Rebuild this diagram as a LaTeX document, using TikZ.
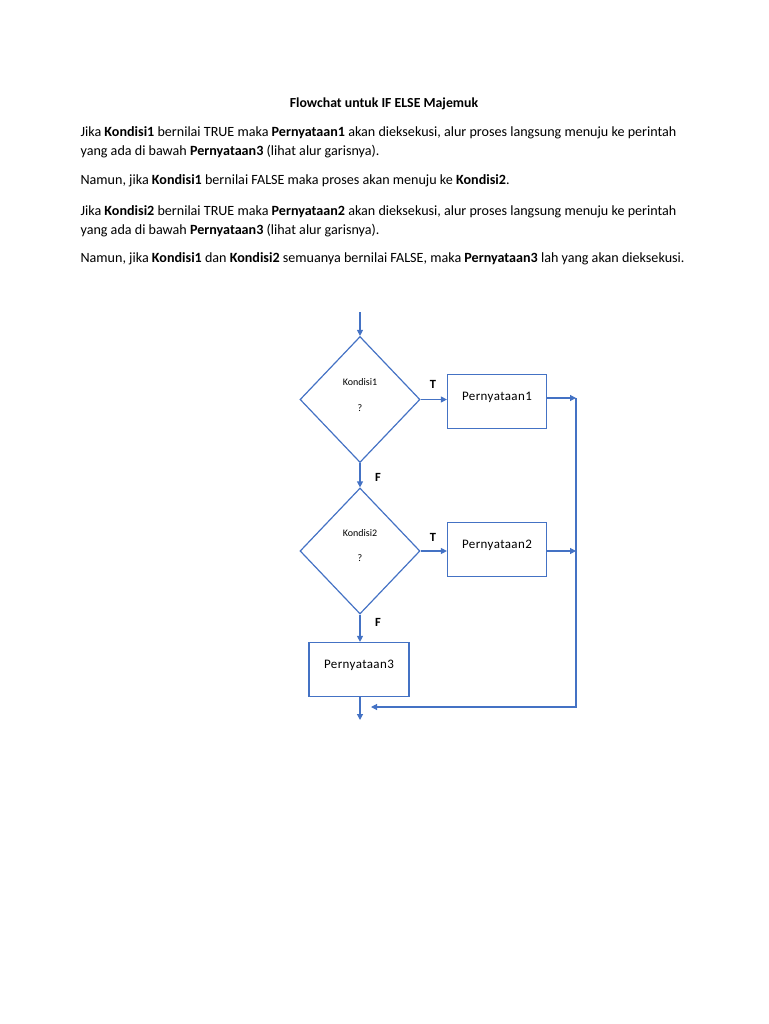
\documentclass[tikz,border=0pt]{standalone}
\usepackage{fontspec}
\setmainfont{Carlito}
\newfontfamily\kotakfont[LetterSpace=3]{Carlito}
\usepackage{tikz}
\usetikzlibrary{shapes.geometric, arrows.meta, positioning}
\definecolor{garis}{HTML}{4472C4}

\begin{document}
\begin{tikzpicture}[x=1pt, y=-1pt, line width=1.2pt,
  alur/.style={draw=garis, -{Triangle[length=6pt, width=6pt]}},
  kondisi/.style={diamond, draw=garis, minimum width=120pt, minimum height=126pt, inner sep=0pt},
  proses/.style={rectangle, draw=garis, minimum width=99pt, inner xsep=0pt, inner ysep=0pt,
    text height=26pt, text depth=28pt, font=\kotakfont\fontsize{13}{15}\selectfont},
  kecil/.style={anchor=base, font=\fontsize{10}{12}\selectfont},
  label/.style={anchor=base, font=\bfseries\fontsize{12.5}{14}\selectfont},
  teks/.style={anchor=base west, inner sep=0pt, font=\fontsize{14.1}{16}\selectfont}]
\useasboundingbox (0,0) rectangle (768,1024);

% Teks
\node[anchor=base, inner sep=0pt, font=\bfseries\fontsize{13.8}{16}\selectfont] (judul) at (384,108) {Flowchat untuk IF ELSE Majemuk};
\node[teks] (b1) at (80,136.5) {Jika \textbf{Kondisi1} bernilai TRUE maka \textbf{Pernyataan1} akan dieksekusi, alur proses langsung menuju ke perintah};
\node[teks] (b2) at (80,156) {yang ada di bawah \textbf{Pernyataan3} (lihat alur garisnya).};
\node[teks] (b3) at (80,184.5) {Namun, jika \textbf{Kondisi1} bernilai FALSE maka proses akan menuju ke \textbf{Kondisi2}.};
\node[teks] (b4) at (80,215) {Jika \textbf{Kondisi2} bernilai TRUE maka \textbf{Pernyataan2} akan dieksekusi, alur proses langsung menuju ke perintah};
\node[teks] (b5) at (80,234.5) {yang ada di bawah \textbf{Pernyataan3} (lihat alur garisnya).};
\node[teks] (b6) at (80,262) {Namun, jika \textbf{Kondisi1} dan \textbf{Kondisi2} semuanya bernilai FALSE, maka \textbf{Pernyataan3} lah yang akan dieksekusi.};

% Simbol
\coordinate (mulai) at (360,312);
\node[kondisi] (k1) at (360,399.5) {};
\node[kecil] (k1t) at ([yshift=14.5pt]k1.center) {Kondisi1};
\node[kecil] (k1q) at ([yshift=-11.5pt]k1.center) {?};
\node[proses] (p1) at (497,401.5) {Pernyataan1};

\node[kondisi] (k2) at (360,551) {};
\node[kecil] (k2t) at ([yshift=15pt]k2.center) {Kondisi2};
\node[kecil] (k2q) at ([yshift=-10.5pt]k2.center) {?};
\node[proses] (p2) at (497,549.5) {Pernyataan2};

\node[proses, minimum width=100pt] (p3) at (359,669.5) {Pernyataan3};

\node[label] (t1) at (433,388) {T};
\node[label] (f1) at (378,481) {F};
\node[label] (t2) at (433,541.5) {T};
\node[label] (f2) at (378,626.5) {F};

\coordinate (j1) at (576,398);
\coordinate (j2) at (576,551);
\coordinate (j3) at (576,707);
\coordinate (masuk) at (371,707);
\coordinate (akhir) at (360,720);

% Alur
\draw[alur] (mulai) -- (k1.north);
\draw[alur] (k1.east) -- (p1.west |- k1.east);
\draw[alur] (k1.south) -- (k2.north);
\draw[alur] (k2.east) -- (p2.west |- k2.east);
\draw[alur] (k2.south) -- (p3.north -| k2.south);
\draw[alur] (p1.east |- j1) -- (j1);
\draw[alur] (p2.east |- j2) -- (j2);
\draw[alur] (j1) -- (j3) -- (masuk);
\draw[alur] (p3.south -| akhir) -- (akhir);
\end{tikzpicture}
\end{document}
